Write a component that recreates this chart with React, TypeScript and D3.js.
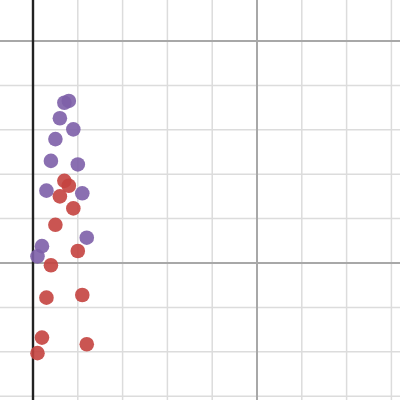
import React, { useEffect, useRef } from "react";
import * as d3 from "d3";

// x positions shared by both series
const xValues = [0.1, 0.2, 0.3, 0.4, 0.5, 0.6, 0.7, 0.8, 0.9, 1.0, 1.1, 1.2];
const purpleValues = [5.15, 5.38, 6.63, 7.3, 7.79, 8.26, 8.61, 8.65, 8.01, 7.22, 6.57, 5.57];
const redValues = [2.97, 3.32, 4.22, 4.95, 5.86, 6.5, 6.85, 6.74, 6.23, 5.27, 4.28, 3.17];

const xGrid = d3.range(-1, 9);
const yGrid = d3.range(1, 12);

const width = 400;
const height = 400;

const App: React.FC = () => {
  const svgRef = useRef<SVGSVGElement | null>(null);

  useEffect(() => {
    const svg = d3.select(svgRef.current);
    svg.selectAll("*").remove();

    const x = d3.scaleLinear().domain([0, 5]).range([33, 257]);
    const y = d3.scaleLinear().domain([5, 10]).range([263, 41]);

    svg.append("rect")
      .attr("width", width)
      .attr("height", height)
      .attr("fill", "#fff");

    const grid = svg.append("g");

    // minor grid
    grid.selectAll(".vminor")
      .data(xGrid.filter(d => d % 5 !== 0))
      .join("line")
      .attr("x1", d => x(d))
      .attr("x2", d => x(d))
      .attr("y1", 0)
      .attr("y2", height)
      .attr("stroke", "#dcdcdc")
      .attr("stroke-width", 1.5);

    grid.selectAll(".hminor")
      .data(yGrid.filter(d => d % 5 !== 0))
      .join("line")
      .attr("y1", d => y(d))
      .attr("y2", d => y(d))
      .attr("x1", 0)
      .attr("x2", width)
      .attr("stroke", "#dcdcdc")
      .attr("stroke-width", 1.5);

    // major grid
    grid.selectAll(".vmajor")
      .data(xGrid.filter(d => d % 5 === 0 && d !== 0))
      .join("line")
      .attr("x1", d => x(d))
      .attr("x2", d => x(d))
      .attr("y1", 0)
      .attr("y2", height)
      .attr("stroke", "#a8a8a8")
      .attr("stroke-width", 2);

    grid.selectAll(".hmajor")
      .data(yGrid.filter(d => d % 5 === 0))
      .join("line")
      .attr("y1", d => y(d))
      .attr("y2", d => y(d))
      .attr("x1", 0)
      .attr("x2", width)
      .attr("stroke", "#a8a8a8")
      .attr("stroke-width", 2);

    // y axis
    svg.append("line")
      .attr("x1", x(0))
      .attr("x2", x(0))
      .attr("y1", 0)
      .attr("y2", height)
      .attr("stroke", "#222")
      .attr("stroke-width", 2.4);

    svg.append("g")
      .selectAll("circle")
      .data(purpleValues)
      .join("circle")
      .attr("cx", (d, i) => x(xValues[i]))
      .attr("cy", d => y(d))
      .attr("r", 7.3)
      .attr("fill", "#7d5fa8")
      .attr("fill-opacity", 0.9);

    svg.append("g")
      .selectAll("circle")
      .data(redValues)
      .join("circle")
      .attr("cx", (d, i) => x(xValues[i]))
      .attr("cy", d => y(d))
      .attr("r", 7.3)
      .attr("fill", "#c4423f")
      .attr("fill-opacity", 0.9);
  }, []);

  return (
    <svg
      ref={svgRef}
      width={width}
      height={height}
      style={{ position: "fixed", left: 0, top: 0 }}
    />
  );
};

export default App;
